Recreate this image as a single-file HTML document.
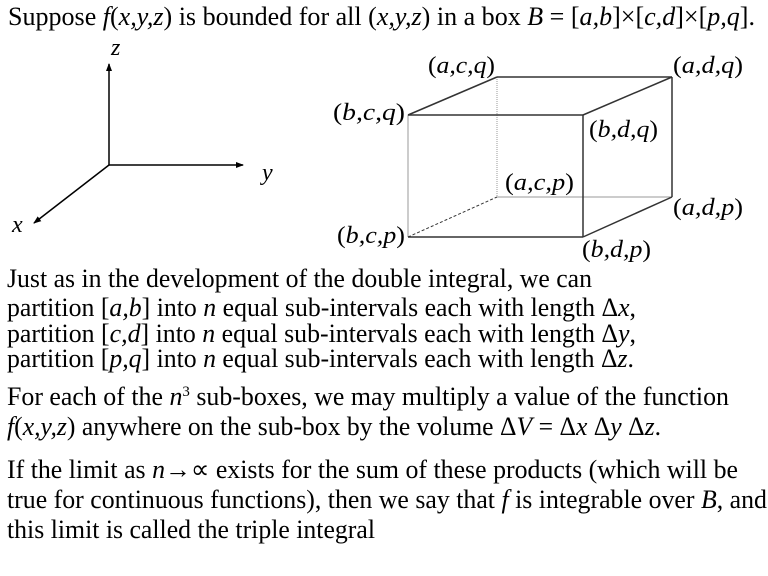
<!DOCTYPE html>
<html><head><meta charset="utf-8"><style>
html,body{margin:0;padding:0;background:#fff;}
svg{display:block;}
text{font-family:"Liberation Serif",serif;font-size:26px;fill:#000;}
.i{font-style:italic;}
.l{font-size:24px;}
</style></head><body>
<svg width="768" height="576" viewBox="0 0 768 576" xmlns="http://www.w3.org/2000/svg">
<defs><marker id="a" markerWidth="8" markerHeight="8" refX="7" refY="4" orient="auto" markerUnits="userSpaceOnUse"><path d="M0,1 L8,4 L0,7 Z" fill="#000"/></marker></defs>
<text x="8" y="25" textLength="747" lengthAdjust="spacingAndGlyphs">Suppose <tspan class="i">f</tspan>(<tspan class="i">x,y,z</tspan>) is bounded for all (<tspan class="i">x,y,z</tspan>) in a box <tspan class="i">B</tspan> = [<tspan class="i">a,b</tspan>]×[<tspan class="i">c,d</tspan>]×[<tspan class="i">p,q</tspan>].</text>
<g stroke="#000" stroke-width="1.5" fill="none">
<line x1="109" y1="165" x2="109" y2="64" marker-end="url(#a)"/>
<line x1="109" y1="165" x2="243" y2="165" marker-end="url(#a)"/>
<line x1="109" y1="165" x2="34" y2="223" marker-end="url(#a)"/>
</g>
<text class="i l" x="111" y="55">z</text>
<text class="i l" x="262" y="180">y</text>
<text class="i l" x="12" y="232">x</text>
<g stroke="#999" stroke-width="1" fill="none">
<line x1="497" y1="77" x2="497" y2="197" stroke-dasharray="1,1"/>
<line x1="497" y1="197" x2="672" y2="197"/>
<line x1="408" y1="115" x2="408" y2="237"/>
<line x1="408" y1="237" x2="497" y2="197" stroke="#333" stroke-dasharray="3,2"/>
</g>
<g stroke="#333" stroke-width="1.5" fill="none">
<line x1="408" y1="115" x2="583" y2="115"/>
<line x1="583" y1="115" x2="583" y2="237"/>
<line x1="408" y1="237" x2="583" y2="237"/>
<line x1="408" y1="115" x2="497" y2="77"/>
<line x1="497" y1="77" x2="672" y2="77"/>
<line x1="583" y1="115" x2="672" y2="77"/>
<line x1="672" y1="77" x2="672" y2="197"/>
<line x1="583" y1="237" x2="672" y2="197"/>
</g>
<text class="l" x="428" y="73" textLength="67" lengthAdjust="spacingAndGlyphs">(<tspan class="i">a,c,q</tspan>)</text>
<text class="l" x="673" y="73" textLength="70" lengthAdjust="spacingAndGlyphs">(<tspan class="i">a,d,q</tspan>)</text>
<text class="l" x="333" y="120" textLength="72" lengthAdjust="spacingAndGlyphs">(<tspan class="i">b,c,q</tspan>)</text>
<text class="l" x="589" y="137" textLength="69" lengthAdjust="spacingAndGlyphs">(<tspan class="i">b,d,q</tspan>)</text>
<text class="l" x="505" y="190" textLength="69" lengthAdjust="spacingAndGlyphs">(<tspan class="i">a,c,p</tspan>)</text>
<text class="l" x="673" y="215" textLength="70" lengthAdjust="spacingAndGlyphs">(<tspan class="i">a,d,p</tspan>)</text>
<text class="l" x="337" y="243" textLength="68" lengthAdjust="spacingAndGlyphs">(<tspan class="i">b,c,p</tspan>)</text>
<text class="l" x="582" y="257" textLength="69" lengthAdjust="spacingAndGlyphs">(<tspan class="i">b,d,p</tspan>)</text>
<text x="7" y="287" textLength="585" lengthAdjust="spacingAndGlyphs">Just as in the development of the double integral, we can</text>
<text x="7" y="316" textLength="629" lengthAdjust="spacingAndGlyphs">partition [<tspan class="i">a,b</tspan>] into <tspan class="i">n</tspan> equal sub-intervals each with length Δ<tspan class="i">x</tspan>,</text>
<text x="7" y="342" textLength="629" lengthAdjust="spacingAndGlyphs">partition [<tspan class="i">c,d</tspan>] into <tspan class="i">n</tspan> equal sub-intervals each with length Δ<tspan class="i">y</tspan>,</text>
<text x="7" y="367" textLength="627" lengthAdjust="spacingAndGlyphs">partition [<tspan class="i">p,q</tspan>] into <tspan class="i">n</tspan> equal sub-intervals each with length Δ<tspan class="i">z</tspan>.</text>
<text x="7" y="405" textLength="722" lengthAdjust="spacingAndGlyphs">For each of the <tspan class="i">n</tspan><tspan font-size="15" dy="-9">3</tspan><tspan dy="9"> sub-boxes, we may multiply a value of the function</tspan></text>
<text x="7" y="435" textLength="654" lengthAdjust="spacingAndGlyphs"><tspan class="i">f</tspan>(<tspan class="i">x,y,z</tspan>) anywhere on the sub-box by the volume Δ<tspan class="i">V</tspan> = Δ<tspan class="i">x</tspan> Δ<tspan class="i">y</tspan> Δ<tspan class="i">z</tspan>.</text>
<text x="7" y="478" textLength="731" lengthAdjust="spacingAndGlyphs">If the limit as <tspan class="i">n</tspan>→∝ exists for the sum of these products (which will be</text>
<text x="7" y="508" textLength="760" lengthAdjust="spacingAndGlyphs">true for continuous functions), then we say that <tspan class="i">f</tspan> is integrable over <tspan class="i">B</tspan>, and</text>
<text x="7" y="538" textLength="368" lengthAdjust="spacingAndGlyphs">this limit is called the triple integral</text>
</svg>
</body></html>
